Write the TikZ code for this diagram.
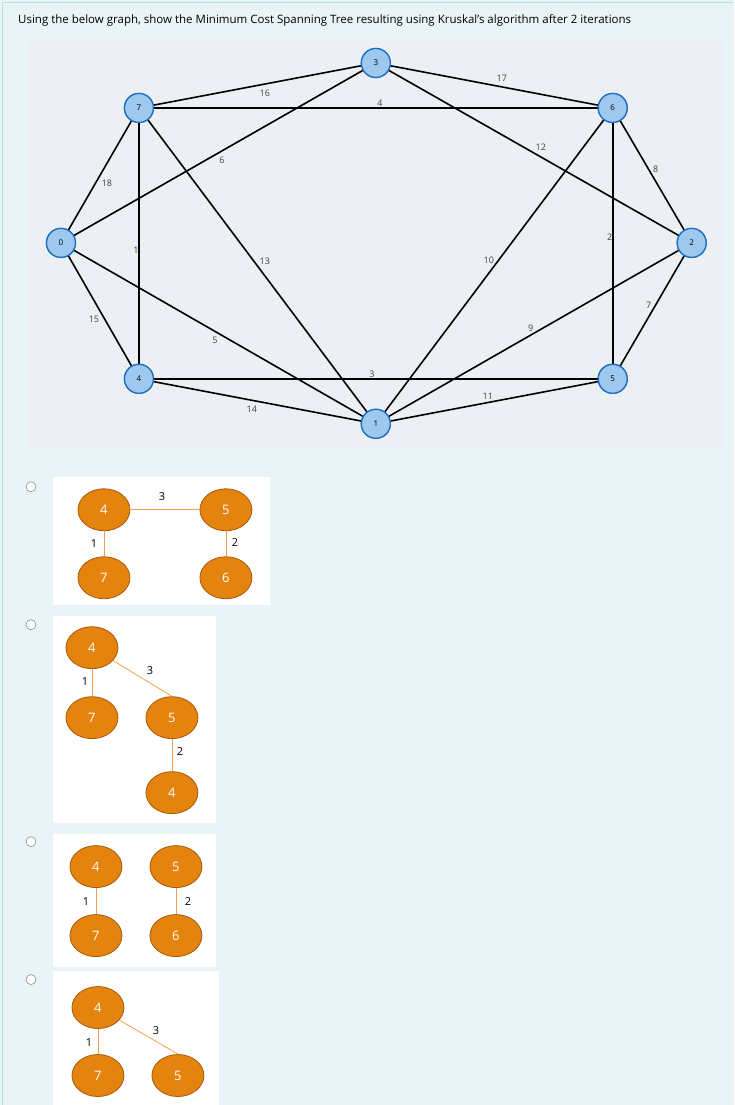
\documentclass[tikz,border=0pt]{standalone}
\usepackage{fontspec}
\setmainfont{Open Sans}
\begin{document}
\begin{tikzpicture}[x=1pt,y=-1pt,
  gn/.style={circle,draw=gbord,fill=gfill,line width=1.3pt,minimum size=29pt,inner sep=0pt,font=\fontsize{8}{8}\selectfont},
  ge/.style={line width=1.6pt,black},
  wl/.style={font=\fontsize{9}{9}\selectfont,text=black!75,inner sep=0pt},
  on/.style={ellipse,draw=obord,fill=ofill,line width=0.8pt,minimum width=52pt,minimum height=42pt,inner sep=0pt,text=white,font=\fontsize{13}{13}\selectfont},
  oe/.style={draw=oline,line width=0.8pt},
  ol/.style={font=\fontsize{11}{11}\selectfont,inner sep=0pt},
  radio/.style={circle,draw=black!45,fill=white,minimum size=10pt,inner sep=0pt,line width=0.6pt}]
\usetikzlibrary{shapes.geometric}
\definecolor{gfill}{HTML}{9EC8EE}
\definecolor{gbord}{HTML}{1E6FC0}
\definecolor{ofill}{HTML}{E5830F}
\definecolor{obord}{HTML}{A8590A}
\definecolor{oline}{HTML}{F0A050}
\definecolor{pagebg}{HTML}{E8F4F6}
\definecolor{graphbg}{HTML}{ECF0F4}
\definecolor{edgeb}{HTML}{B8E0EA}
\fill[pagebg] (0,0) rectangle (734,1105);
\draw[edgeb,line width=1pt] (3,1105) -- (3,3) -- (734,3);
\useasboundingbox (0,0) rectangle (734,1105);
\node[anchor=west,font=\fontsize{11.5}{12}\selectfont,inner sep=0pt] (q) at (18,20) {Using the below graph, show the Minimum Cost Spanning Tree resulting using Kruskal's algorithm after 2 iterations};
\fill[graphbg] (28,38) rectangle (722,450);
\node[gn] (n0) at (61,243) {0};
\node[gn] (n7) at (139,108) {7};
\node[gn] (n4) at (139,379) {4};
\node[gn] (n3) at (376,63) {3};
\node[gn] (n1) at (376,424) {1};
\node[gn] (n6) at (613,108) {6};
\node[gn] (n5) at (613,379) {5};
\node[gn] (n2) at (692,243) {2};
\begin{scope}[on background layer/.style={}]
\end{scope}
\foreach \a/\b in {7/3,7/6,3/6,3/0,3/2,7/0,7/4,7/1,6/1,6/5,6/2,0/4,0/1,2/1,2/5,4/5,4/1,1/5}
  \draw[ge] (n\a) -- (n\b);
\node[wl] (w16) at (265,93) {16};
\node[wl] (w4) at (380,103) {4};
\node[wl] (w17) at (502,78) {17};
\node[wl] (w6) at (222,160) {6};
\node[wl] (w12) at (541,147) {12};
\node[wl] (w18) at (107,183) {18};
\node[wl,text=black!60!orange] (w1) at (136,250) {1};
\node[wl] (w13) at (265,261) {13};
\node[wl] (w10) at (489,260) {10};
\node[wl] (w2) at (610,237) {2};
\node[wl] (w8) at (656,169) {8};
\node[wl] (w15) at (94,319) {15};
\node[wl] (w5) at (215,340) {5};
\node[wl] (w9) at (531,328) {9};
\node[wl] (w7) at (649,305) {7};
\node[wl] (w3) at (372,374) {3};
\node[wl] (w14) at (252,409) {14};
\node[wl] (w11) at (488,396) {11};
% redraw nodes above edges
\node[gn] at (61,243) {0};
\node[gn] at (139,108) {7};
\node[gn] at (139,379) {4};
\node[gn] at (376,63) {3};
\node[gn] at (376,424) {1};
\node[gn] at (613,108) {6};
\node[gn] at (613,379) {5};
\node[gn] at (692,243) {2};
% options
\node[radio] (r1) at (31,487) {};
\node[radio] (r2) at (31,625) {};
\node[radio] (r3) at (31,842) {};
\node[radio] (r4) at (31,980) {};
\fill[white] (53,477) rectangle (270,605);
\fill[white] (53,616) rectangle (216,823);
\fill[white] (53,834) rectangle (216,967);
\fill[white] (53,971) rectangle (219,1105);
% option 1
\node[on] (a4) at (104,510) {4};
\node[on] (a5) at (226,510) {5};
\node[on] (a7) at (104,578) {7};
\node[on] (a6) at (226,578) {6};
\draw[oe] (a4) -- (a5); \draw[oe] (a4) -- (a7); \draw[oe] (a5) -- (a6);
\node[ol] (al3) at (162,497) {3};
\node[ol] (al1) at (94,544) {1};
\node[ol] (al2) at (235,543) {2};
% option 2
\node[on] (b4) at (92,648) {4};
\node[on] (b7) at (92,718) {7};
\node[on] (b5) at (172,718) {5};
\node[on] (b4b) at (172,793) {4};
\draw[oe] (b4) -- (b7); \draw[oe] (b4) -- (b5.north); \draw[oe] (b5) -- (b4b);
\node[ol] (bl3) at (150,671) {3};
\node[ol] (bl1) at (85,682) {1};
\node[ol] (bl2) at (180,752) {2};
% option 3
\node[on] (c4) at (96,867) {4};
\node[on] (c5) at (176,867) {5};
\node[on] (c7) at (96,936) {7};
\node[on] (c6) at (176,936) {6};
\draw[oe] (c4) -- (c7); \draw[oe] (c5) -- (c6);
\node[ol] (cl1) at (86,902) {1};
\node[ol] (cl2) at (188,902) {2};
% option 4
\node[on] (d4) at (98,1008) {4};
\node[on] (d7) at (98,1076) {7};
\node[on] (d5) at (178,1076) {5};
\draw[oe] (d4) -- (d7); \draw[oe] (d4) -- (d5.north);
\node[ol] (dl3) at (156,1031) {3};
\node[ol] (dl1) at (89,1043) {1};
\end{tikzpicture}
\end{document}
